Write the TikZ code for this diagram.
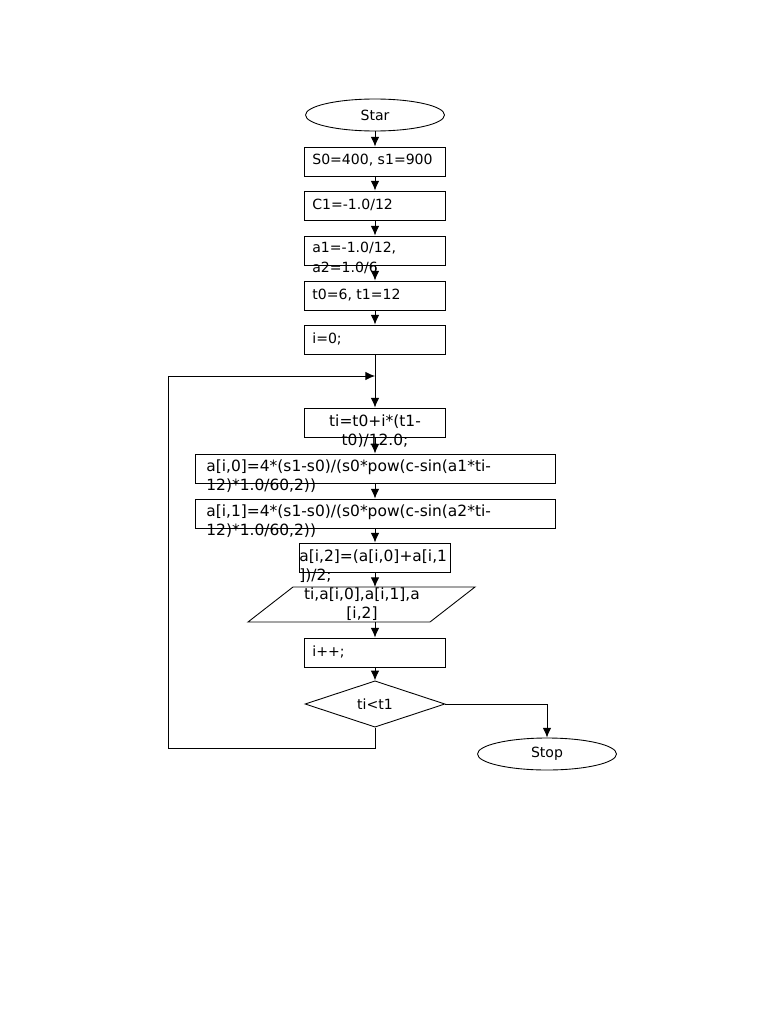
\documentclass[tikz,border=0pt]{standalone}
\usepackage{fontspec}
\setmainfont{DejaVu Sans}
\usetikzlibrary{arrows.meta,shapes.geometric}

\tikzset{
  box/.style={draw,line width=0.5pt,minimum width=2.82cm,minimum height=0.58cm,inner sep=0pt},
  widebox/.style={box,minimum width=7.2cm},
  midbox/.style={box,minimum width=3.02cm},
  txt/.style={inner sep=0pt,anchor=west,align=left,font=\fontsize{8}{11.4}\selectfont},
  txtb/.style={inner sep=0pt,anchor=west,align=left,font=\fontsize{8.8}{10.8}\selectfont},
  txtc/.style={txtb,anchor=center,align=center},
  oval/.style={draw,ellipse,line width=0.5pt,minimum width=2.78cm,minimum height=0.64cm,inner sep=0pt,font=\fontsize{8}{10}\selectfont},
  cond/.style={draw,diamond,line width=0.5pt,minimum width=2.8cm,minimum height=0.8cm,inner sep=0pt,font=\fontsize{8}{10}\selectfont},
  arr/.style={line width=0.5pt,-{Latex[length=5.5pt,width=4.8pt]}}
}

\begin{document}
\begin{tikzpicture}[x=0.02cm,y=-0.02cm]
  \useasboundingbox (0,0) rectangle (768,1024);
  \node[oval] (start) at (375,115) {Star};
  \node[box] (b1) at (375,161.5) {};
  \node[txt] (t1) at (312,160) {S0=400, s1=900};
  \node[box] (b2) at (375,205.5) {};
  \node[txt] (t2) at (312,205) {C1=-1.0/12};
  \node[box] (b3) at (375,250.5) {};
  \node[txt] (t3) at (312,258) {a1=-1.0/12,\\a2=1.0/6};
  \node[box] (b4) at (375,295.5) {};
  \node[txt] (t4) at (312,295) {t0=6, t1=12};
  \node[box] (b5) at (375,339.5) {};
  \node[txt] (t5) at (312,339) {i=0;};
  \node[box] (b6) at (375,422.5) {};
  \node[txtc] (t6) at (375,431) {ti=t0+i*(t1-\\t0)/12.0;};
  \node[widebox] (b7) at (375,468.5) {};
  \node[txtb] (t7) at (206,476.5) {a[i,0]=4*(s1-s0)/(s0*pow(c-sin(a1*ti-\\12)*1.0/60,2))};
  \node[widebox] (b8) at (375,513.5) {};
  \node[txtb] (t8) at (206,521.5) {a[i,1]=4*(s1-s0)/(s0*pow(c-sin(a2*ti-\\12)*1.0/60,2))};
  \node[midbox] (b9) at (375,557.5) {};
  \node[txtb] (t9) at (299,566.5) {a[i,2]=(a[i,0]+a[i,1\\])/2;};
  \draw[line width=0.5pt] (293,587) -- (475,587) -- (430,622) -- (248,622) -- cycle;
  \coordinate (pin) at (375,587);
  \coordinate (pout) at (375,622);
  \node[txtc] (t10) at (362,604.5) {ti,a[i,0],a[i,1],a\\{}[i,2]};
  \node[box] (b10) at (375,652.5) {};
  \node[txt] (t11) at (312,652) {i++;};
  \node[cond] (test) at (375,704) {ti<t1};
  \node[oval] (stop) at (547,754) {Stop};
  \coordinate (join) at (375,376);
  \coordinate (back) at (168,748);

  \draw[arr] (start) -- (b1);
  \draw[arr] (b1) -- (b2);
  \draw[arr] (b2) -- (b3);
  \draw[arr] (b3) -- (b4);
  \draw[arr] (b4) -- (b5);
  \draw[arr] (b5) -- (b6);
  \draw[arr] (b6) -- (b7);
  \draw[arr] (b7) -- (b8);
  \draw[arr] (b8) -- (b9);
  \draw[arr] (b9) -- (pin);
  \draw[arr] (pout) -- (b10);
  \draw[arr] (b10) -- (test);
  \draw[arr] (test.east) -| (stop.north);
  \draw[arr] (test.south) |- (back) |- (join);
\end{tikzpicture}
\end{document}
